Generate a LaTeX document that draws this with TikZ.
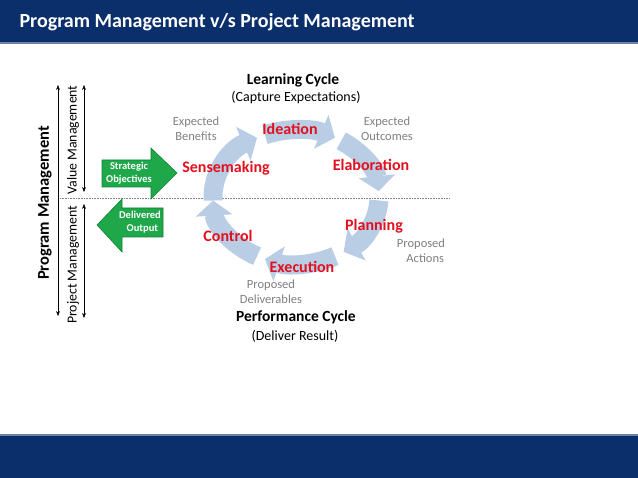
\documentclass[tikz,border=0pt]{standalone}
\usepackage{fontspec}
\setmainfont{Carlito}
\usetikzlibrary{arrows.meta,calc}
\definecolor{navy}{HTML}{0B2F6B}
\definecolor{cyc}{HTML}{B9CDE5}
\definecolor{redl}{HTML}{E2101E}
\definecolor{grayt}{HTML}{808080}
\definecolor{grn}{HTML}{1EA84A}
\definecolor{grnd}{HTML}{15803A}
\tikzset{
  cycarrow/.style={cyc, line width=19pt, -{Triangle[width=36pt,length=15pt]}},
  redlab/.style={text=redl, font=\bfseries\fontsize{16}{18}\selectfont},
  graylab/.style={text=grayt, font=\fontsize{12.5}{15}\selectfont, align=center},
  blk/.style={font=\bfseries\fontsize{15.5}{18}\selectfont},
  sub/.style={font=\fontsize{14}{16}\selectfont},
  vlab/.style={rotate=90, font=\bfseries\fontsize{16.5}{18}\selectfont},
  vlab2/.style={rotate=90, font=\fontsize{13.8}{16}\selectfont},
  dbl/.style={{Stealth[length=5pt]}-{Stealth[length=5pt]}, thin},
  garrow/.style={fill=grn, draw=grnd, line width=0.6pt},
  glab/.style={text=white, font=\bfseries\fontsize{10.5}{12.5}\selectfont, align=center}
}
\begin{document}
\begin{tikzpicture}[x=1pt,y=-1pt]
\useasboundingbox (0,0) rectangle (638,478);
\fill[navy] (0,0) rectangle (638,42);
\fill[navy!60] (0,42) rectangle (638,44);
\fill[navy!60] (0,434) rectangle (638,436);
\fill[navy] (0,436) rectangle (638,478);
\node[anchor=west, text=white, font=\bfseries\fontsize{20}{24}\selectfont] (title) at (16,22) {Program Management v/s Project Management};

% dashed line
\coordinate (dl) at (60,198); \coordinate (dr) at (450,198);
\draw[gray, densely dotted, line width=0.6pt] (dl) -- (dr);

% cycle
\coordinate (c) at (296,197);
\foreach \s/\e in {-183/-118, -112/-62, -57/-5, 3/55, 62/112, 118/177}{
  \draw[cycarrow] ($(c)+({83*cos(\s)},{67*sin(\s)})$) arc[start angle=\s, end angle=\e, x radius=83, y radius=67];
}

% left arrows
\coordinate (p1) at (58,85); \coordinate (p2) at (58,316);
\coordinate (v1) at (84,85); \coordinate (v2) at (84,192);
\coordinate (q1) at (84,204); \coordinate (q2) at (84,318);
\draw[dbl] (p1) -- (p2);
\draw[dbl] (v1) -- (v2);
\draw[dbl] (q1) -- (q2);
\node[vlab] (pm) at (45,203) {Program Management};
\node[vlab2] (vm) at (73,140) {Value Management};
\node[vlab2] (prm) at (73,265) {Project Management};

% green arrows
\draw[garrow] (102,160) -- (151,160) -- (151,148) -- (177,173) -- (151,199) -- (151,187) -- (102,187) -- cycle;
\node[glab] (so) at (129,173) {Strategic\\Objectives};
\draw[garrow] (163,208) -- (122,208) -- (122,199) -- (97,225) -- (122,252) -- (122,237) -- (163,237) -- cycle;
\node[glab] (do) at (140,222) {Delivered\\\ \ Output};

% texts
\node[blk] (lc) at (293,80) {Learning Cycle};
\node[sub] (ce) at (296,98) {(Capture Expectations)};
\node[blk] (pc) at (296,317) {Performance Cycle};
\node[sub] (dr2) at (295,336) {(Deliver Result)};

\node[graylab] (eb) at (196,129) {Expected\\Benefits};
\node[graylab] (eo) at (387,129) {Expected\\Outcomes};
\node[graylab] (pa) at (421,251) {Proposed\\\ \ \ Actions};
\node[graylab] (pd) at (271,292) {Proposed\\Deliverables};

\node[redlab] (id) at (290,129) {Ideation};
\node[redlab] (se) at (226,168) {Sensemaking};
\node[redlab] (el) at (371,165) {Elaboration};
\node[redlab] (pl) at (374,226) {Planning};
\node[redlab] (co) at (228,236) {Control};
\node[redlab] (ex) at (302,267) {Execution};
\end{tikzpicture}
\end{document}
